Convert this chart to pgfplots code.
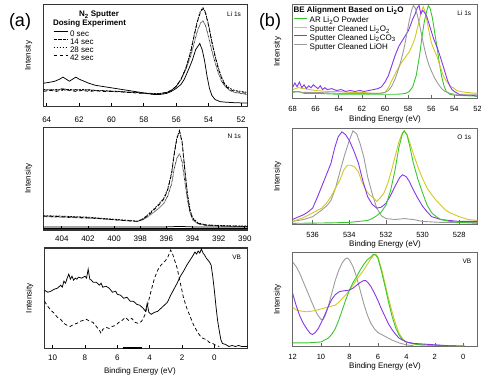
\documentclass[border=0pt]{standalone}
\usepackage{fontspec}
\setmainfont{Liberation Sans}
\usepackage{pgfplots}
\pgfplotsset{compat=1.18}
\definecolor{cgreen}{RGB}{55,200,45}
\definecolor{cyellow}{RGB}{210,200,35}
\definecolor{cpurple}{RGB}{135,55,235}
\definecolor{cgray}{RGB}{155,155,155}
\definecolor{frameg}{RGB}{105,105,105}
\tikzset{
  corner/.style={anchor=north east, font=\fontsize{6.5}{7}\selectfont},
  s0/.style={black, line width=0.75pt},
  s14/.style={black, line width=0.75pt, dash pattern=on 0.6pt off 0.7pt},
  s28/.style={black, line width=0.75pt, dash pattern=on 1.8pt off 1.2pt},
  s42/.style={black, line width=0.75pt, dash pattern=on 3.5pt off 2.5pt},
  rl/.style={line width=0.9pt},
}
\pgfplotsset{
  base/.style={scale only axis, x dir=reverse, ymin=0, ymax=1, ytick=\empty,
    xtick pos=left, tick align=inside, major tick length=4pt,
    /pgf/number format/assume math mode=true,
    xticklabel style={font=\fontsize{8}{9}\selectfont, yshift=-2.5pt},
    every axis y label/.style={at={([xshift=-15pt]axis description cs:0,0.5)}, rotate=90, anchor=center, font=\fontsize{8}{9}\selectfont},
    every axis x label/.style={at={([yshift=-20pt]axis description cs:0.5,0)}, anchor=center, font=\fontsize{8}{9}\selectfont},
    ylabel={Intensity}},
  leftax/.style={base, axis line style={line width=1.1pt, black!80}, every tick/.style={black, line width=0.8pt}},
  rightax/.style={base, axis line style={line width=1pt, frameg}, every tick/.style={frameg, line width=0.6pt},
    xticklabel style={font=\fontsize{7.5}{9}\selectfont, yshift=-1.5pt}},
}
\begin{document}
\begin{tikzpicture}[x=1pt,y=1pt]
\useasboundingbox (0,0) rectangle (481,378);
\node[font=\fontsize{18}{20}\selectfont] at (20,356) {(a)};
\node[font=\fontsize{18}{20}\selectfont] at (270,356) {(b)};
% ---------- a1 Li 1s
\begin{axis}[leftax, at={(43.5pt,271.3pt)}, anchor=south west, width=204pt, height=102pt,
  xmin=51.6, xmax=64.2, xtick={52,54,...,64},
  xticklabel style={yshift=-4.5pt},
  legend style={at={(rel axis cs:0.047,0.755)}, anchor=north west, draw=none, fill=none, inner sep=0pt, font=\fontsize{8}{9}\selectfont, row sep=0.7pt, cells={anchor=west}, nodes={inner sep=0.5pt, text height=5.8pt, text depth=0.5pt}, /tikz/every odd column/.append style={column sep=1.5pt}},
  legend image code/.code={\draw[#1] (0pt,2pt) -- (14pt,2pt);}]
\addplot[s0] coordinates {(64.2,0.23)(63.8,0.24)(63.5,0.25)(63.2,0.27)(63.0,0.29)(62.8,0.27)(62.6,0.25)(62.4,0.27)(62.2,0.29)(62.0,0.27)(61.7,0.25)(61.4,0.23)(61.0,0.21)(60.6,0.2)(60.2,0.19)(59.8,0.18)(59.4,0.17)(59.0,0.16)(58.6,0.15)(58.2,0.14)(57.8,0.13)(57.4,0.12)(57.0,0.12)(56.6,0.13)(56.3,0.15)(56.0,0.18)(55.7,0.22)(55.5,0.27)(55.2,0.38)(55.0,0.46)(54.8,0.56)(54.55,0.62)(54.4,0.56)(54.25,0.45)(54.1,0.3)(53.95,0.18)(53.8,0.11)(53.6,0.07)(53.3,0.05)(53.0,0.045)(52.5,0.04)(51.6,0.035)};
\addlegendentry{0 sec}
\addplot[s14] coordinates {(64.2,0.16)(63.8,0.17)(63.4,0.16)(63.0,0.18)(62.6,0.16)(62.2,0.17)(61.8,0.16)(61.4,0.17)(61.0,0.16)(60.5,0.16)(60,0.155)(59.5,0.15)(59,0.145)(58.5,0.14)(58,0.135)(57.5,0.13)(57,0.13)(56.6,0.14)(56.3,0.16)(56.0,0.2)(55.7,0.27)(55.4,0.37)(55.1,0.5)(54.9,0.62)(54.7,0.74)(54.5,0.82)(54.35,0.84)(54.2,0.8)(54.0,0.68)(53.8,0.55)(53.6,0.43)(53.4,0.33)(53.2,0.25)(53.0,0.2)(52.7,0.16)(52.4,0.14)(52,0.13)(51.6,0.12)};
\addlegendentry{14 sec}
\addplot[s28] coordinates {(64.2,0.17)(63.8,0.16)(63.4,0.17)(63.0,0.16)(62.6,0.17)(62.2,0.16)(61.8,0.17)(61.4,0.16)(61.0,0.16)(60.5,0.155)(60,0.15)(59.5,0.15)(59,0.14)(58.5,0.14)(58,0.13)(57.5,0.13)(57,0.13)(56.6,0.14)(56.3,0.16)(56.0,0.2)(55.7,0.27)(55.4,0.38)(55.1,0.55)(54.9,0.7)(54.7,0.84)(54.5,0.94)(54.35,0.97)(54.2,0.93)(54.0,0.8)(53.8,0.64)(53.6,0.5)(53.4,0.38)(53.2,0.29)(53.0,0.22)(52.7,0.18)(52.4,0.16)(52,0.15)(51.6,0.14)};
\addlegendentry{28 sec}
\addplot[s42] coordinates {(64.2,0.15)(63.8,0.16)(63.4,0.15)(63.0,0.17)(62.6,0.16)(62.2,0.15)(61.8,0.16)(61.4,0.15)(61.0,0.155)(60.5,0.15)(60,0.15)(59.5,0.145)(59,0.14)(58.5,0.135)(58,0.13)(57.5,0.125)(57,0.125)(56.6,0.14)(56.3,0.16)(56.0,0.2)(55.7,0.27)(55.4,0.38)(55.1,0.54)(54.9,0.69)(54.7,0.83)(54.5,0.93)(54.35,0.96)(54.2,0.92)(54.0,0.79)(53.8,0.63)(53.6,0.49)(53.4,0.37)(53.2,0.28)(53.0,0.21)(52.7,0.17)(52.4,0.15)(52,0.14)(51.6,0.13)};
\addlegendentry{42 sec}
\node[font=\bfseries\fontsize{8}{9}\selectfont, inner sep=0pt] at (rel axis cs:0.272,0.9) {N\textsubscript{2} Sputter};
\node[font=\bfseries\fontsize{8}{9}\selectfont, inner sep=0pt] at (rel axis cs:0.2255,0.818) {Dosing Experiment};
\node[corner] at (rel axis cs:0.985,0.97) {Li 1s};
\end{axis}
% ---------- a2 N 1s
\begin{axis}[leftax, at={(43.5pt,148pt)}, anchor=south west, width=204pt, height=102.7pt,
  xmin=389.8, xmax=405.4, xtick={390,392,...,404}]
\addplot[s0] coordinates {(405.4,0.03)(398,0.03)(396,0.03)(395,0.035)(394,0.03)(393,0.03)(389.8,0.03)};
\addplot[s0, line width=0.4pt] coordinates {(405.4,0.015)(389.8,0.015)};
\addplot[s14] coordinates {(405.4,0.13)(404,0.125)(403,0.12)(402,0.115)(401,0.11)(400,0.1)(399,0.09)(398.2,0.085)(397.8,0.1)(397.4,0.13)(397,0.17)(396.6,0.21)(396.2,0.26)(395.9,0.33)(395.6,0.45)(395.4,0.6)(395.2,0.7)(395.0,0.745)(394.8,0.66)(394.6,0.48)(394.4,0.3)(394.2,0.17)(394.0,0.1)(393.6,0.06)(393,0.045)(392,0.04)(391,0.035)(389.8,0.035)};
\addplot[s28] coordinates {(405.4,0.14)(404,0.135)(403,0.13)(402,0.125)(401,0.115)(400,0.105)(399,0.095)(398.2,0.085)(397.8,0.11)(397.4,0.15)(397,0.2)(396.6,0.25)(396.2,0.31)(395.9,0.4)(395.6,0.56)(395.4,0.75)(395.2,0.9)(395.0,0.97)(394.8,0.86)(394.6,0.6)(394.4,0.36)(394.2,0.2)(394.0,0.12)(393.6,0.07)(393,0.05)(392,0.045)(391,0.04)(389.8,0.04)};
\addplot[s42] coordinates {(405.4,0.135)(404,0.13)(403,0.125)(402,0.12)(401,0.11)(400,0.1)(399,0.09)(398.2,0.085)(397.8,0.105)(397.4,0.14)(397,0.19)(396.6,0.24)(396.2,0.3)(395.9,0.39)(395.6,0.55)(395.4,0.74)(395.2,0.89)(395.0,0.96)(394.8,0.85)(394.6,0.59)(394.4,0.35)(394.2,0.19)(394.0,0.11)(393.6,0.065)(393,0.05)(392,0.04)(391,0.04)(389.8,0.035)};
\node[corner] at (rel axis cs:0.985,0.97) {N 1s};
\end{axis}
% ---------- a3 VB
\begin{axis}[leftax, at={(44.5pt,29.5pt)}, anchor=south west, width=203pt, height=100.5pt,
  xmin=-2.05, xmax=10.5, xtick={0,2,...,10}, xlabel={Binding Energy (eV)},
  every axis x label/.style={at={([yshift=-23pt]axis description cs:0.47,0)}, anchor=center, font=\fontsize{8}{9}\selectfont}]
\addplot[s0] coordinates {(10.5,0.58)(10.3,0.56)(10.1,0.57)(9.9,0.59)(9.7,0.6)(9.5,0.63)(9.4,0.61)(9.3,0.67)(9.2,0.65)(9.1,0.7)(9.0,0.74)(8.9,0.69)(8.8,0.72)(8.7,0.68)(8.6,0.7)(8.5,0.69)(8.4,0.71)(8.2,0.7)(8.0,0.72)(7.9,0.7)(7.8,0.79)(7.7,0.69)(7.6,0.68)(7.5,0.66)(7.3,0.66)(7.1,0.63)(7.0,0.65)(6.9,0.61)(6.7,0.62)(6.5,0.6)(6.3,0.56)(6.1,0.57)(6.0,0.54)(5.8,0.53)(5.6,0.5)(5.4,0.51)(5.2,0.47)(5.0,0.47)(4.8,0.44)(4.6,0.43)(4.4,0.4)(4.25,0.37)(4.15,0.45)(4.05,0.36)(3.9,0.34)(3.7,0.36)(3.5,0.37)(3.3,0.4)(3.1,0.43)(2.9,0.46)(2.7,0.53)(2.5,0.59)(2.3,0.65)(2.1,0.72)(1.9,0.77)(1.7,0.83)(1.5,0.88)(1.3,0.93)(1.2,0.96)(1.1,0.94)(1.0,0.97)(0.9,0.95)(0.8,0.99)(0.7,0.95)(0.6,0.93)(0.5,0.9)(0.4,0.88)(0.3,0.86)(0.2,0.83)(0.1,0.72)(0.0,0.58)(-0.1,0.42)(-0.2,0.28)(-0.3,0.18)(-0.4,0.09)(-0.5,0.05)(-0.7,0.04)(-0.9,0.02)(-1.1,0.03)(-1.3,0.02)(-1.5,0.03)(-1.7,0.02)(-2.05,0.02)};
\addplot[s42] coordinates {(10.5,0.47)(10.3,0.42)(10.1,0.38)(9.9,0.35)(9.7,0.31)(9.5,0.29)(9.3,0.25)(9.1,0.23)(8.9,0.22)(8.7,0.24)(8.5,0.25)(8.3,0.27)(8.1,0.28)(7.9,0.29)(7.7,0.27)(7.5,0.26)(7.3,0.22)(7.1,0.18)(7.0,0.15)(6.9,0.19)(6.7,0.21)(6.5,0.2)(6.3,0.22)(6.1,0.23)(5.9,0.26)(5.7,0.28)(5.5,0.31)(5.3,0.28)(5.1,0.3)(4.9,0.26)(4.7,0.25)(4.5,0.27)(4.3,0.33)(4.1,0.45)(3.9,0.58)(3.7,0.7)(3.5,0.78)(3.3,0.83)(3.1,0.86)(2.9,0.9)(2.7,0.98)(2.6,0.95)(2.5,0.9)(2.3,0.8)(2.1,0.65)(1.9,0.5)(1.7,0.4)(1.5,0.32)(1.3,0.24)(1.1,0.18)(0.9,0.13)(0.7,0.1)(0.5,0.09)(0.3,0.06)(0.1,0.05)(-0.1,0.03)(-0.3,0.02)};
\addplot[black, line width=1.6pt] coordinates {(5.65,0.008)(4.45,0.008)};
\node[corner] at (rel axis cs:0.985,0.97) {VB};
\end{axis}
% ---------- b1 Li 1s
\begin{axis}[rightax, at={(292.5pt,279pt)}, anchor=south west, width=185pt, height=94.3pt,
  xmin=52, xmax=68, xtick={52,54,...,68}, xlabel={Binding Energy (eV)},
  legend style={at={(rel axis cs:0.006,0.876)}, anchor=north west, draw=none, fill=none, inner sep=0pt, font=\fontsize{8}{9}\selectfont, row sep=1.5pt, cells={anchor=west}, nodes={inner sep=0.5pt, text height=5.8pt, text depth=0.5pt}, /tikz/every odd column/.append style={column sep=1.5pt}},
  legend image code/.code={\draw[#1] (0pt,2pt) -- (13pt,2pt);}]
\addplot[rl, cgreen] coordinates {(68,0.07)(67.5,0.08)(67,0.06)(66,0.06)(65,0.055)(64,0.05)(62,0.05)(60,0.05)(59,0.05)(58.5,0.055)(58.2,0.06)(57.9,0.08)(57.6,0.13)(57.3,0.25)(57.0,0.47)(56.8,0.66)(56.6,0.82)(56.4,0.93)(56.25,0.99)(56.1,0.96)(55.9,0.86)(55.7,0.7)(55.5,0.55)(55.3,0.38)(55.1,0.24)(54.9,0.14)(54.7,0.08)(54.4,0.05)(54.0,0.04)(53,0.035)(52,0.03)};
\addlegendentry{AR Li\textsubscript{2}O Powder}
\addplot[rl, cyellow] coordinates {(68,0.1)(67.5,0.12)(67,0.11)(66.5,0.1)(66,0.09)(65,0.08)(64,0.08)(63,0.07)(62,0.07)(61,0.06)(60.3,0.06)(60,0.07)(59.7,0.12)(59.4,0.2)(59.1,0.27)(58.8,0.34)(58.5,0.4)(58.2,0.45)(57.9,0.5)(57.6,0.58)(57.4,0.65)(57.2,0.75)(57.0,0.85)(56.85,0.93)(56.7,0.98)(56.55,0.93)(56.4,0.85)(56.2,0.72)(56.0,0.6)(55.75,0.52)(55.5,0.45)(55.25,0.35)(55.0,0.26)(54.75,0.2)(54.5,0.16)(54.3,0.13)(54.1,0.12)(53.8,0.09)(53.5,0.08)(53,0.07)(52,0.06)};
\addlegendentry{Sputter Cleaned Li\textsubscript{2}O\textsubscript{2}}
\addplot[rl, cpurple] coordinates {(68,0.12)(67.8,0.17)(67.6,0.13)(67.4,0.18)(67.2,0.12)(67.0,0.15)(66.8,0.11)(66.6,0.14)(66.4,0.12)(66.2,0.15)(66.0,0.13)(65.8,0.11)(65.6,0.14)(65.4,0.1)(65.2,0.12)(65.0,0.1)(64.6,0.11)(64.2,0.09)(63.8,0.1)(63.4,0.08)(63.0,0.09)(62.6,0.08)(62.2,0.09)(61.8,0.08)(61.4,0.09)(61.0,0.1)(60.6,0.11)(60.3,0.13)(60.0,0.18)(59.7,0.25)(59.4,0.36)(59.1,0.47)(58.8,0.56)(58.5,0.62)(58.3,0.66)(58.0,0.72)(57.8,0.78)(57.6,0.85)(57.4,0.9)(57.2,0.97)(57.05,0.99)(56.9,0.9)(56.75,0.94)(56.6,0.92)(56.4,0.88)(56.2,0.8)(56.0,0.72)(55.8,0.64)(55.5,0.55)(55.2,0.44)(55.0,0.36)(54.8,0.28)(54.6,0.2)(54.4,0.14)(54.2,0.1)(54.0,0.08)(53.6,0.05)(53.0,0.04)(52.5,0.04)(52,0.03)};
\addlegendentry{Sputter Cleaned Li\textsubscript{2}CO\textsubscript{3}}
\addplot[rl, cgray] coordinates {(68,0.08)(67,0.07)(66,0.07)(65,0.065)(64,0.06)(62,0.06)(60.5,0.06)(60,0.07)(59.7,0.09)(59.4,0.14)(59.1,0.22)(58.8,0.33)(58.5,0.46)(58.3,0.57)(58.1,0.7)(57.9,0.83)(57.7,0.94)(57.55,0.99)(57.4,0.97)(57.2,0.89)(57.0,0.78)(56.8,0.66)(56.6,0.54)(56.4,0.44)(56.2,0.36)(56.0,0.3)(55.7,0.22)(55.4,0.16)(55.1,0.11)(54.8,0.08)(54.4,0.06)(54,0.05)(53,0.05)(52,0.05)};
\addlegendentry{Sputter Cleaned LiOH}
\node[anchor=west, font=\bfseries\fontsize{8}{9}\selectfont, inner sep=0pt] at (rel axis cs:0.005,0.935) {BE Alignment Based on Li\textsubscript{2}O};
\node[corner] at (rel axis cs:0.985,0.97) {Li 1s};
\end{axis}
% ---------- b2 O 1s
\begin{axis}[rightax, at={(292.5pt,153.7pt)}, anchor=south west, width=185pt, height=95.3pt,
  xmin=527, xmax=537.1, xtick={528,530,...,536}, xlabel={Binding Energy (eV)}]
\addplot[rl, cgray] coordinates {(537.1,0.03)(536.5,0.05)(536,0.08)(535.5,0.15)(535.2,0.2)(535,0.25)(534.75,0.38)(534.5,0.56)(534.25,0.73)(534,0.88)(533.8,0.98)(533.6,0.95)(533.4,0.84)(533.2,0.7)(533,0.5)(532.75,0.32)(532.5,0.17)(532.25,0.09)(532,0.06)(531.5,0.05)(531,0.06)(530.5,0.05)(530,0.03)(529,0.02)(527,0.02)};
\addplot[rl, cyellow] coordinates {(537.1,0.03)(536.5,0.07)(536,0.12)(535.5,0.17)(535.25,0.22)(535,0.29)(534.75,0.38)(534.5,0.47)(534.3,0.57)(534.1,0.62)(533.9,0.62)(533.7,0.6)(533.5,0.55)(533.3,0.44)(533.1,0.36)(532.9,0.31)(532.7,0.28)(532.5,0.24)(532.3,0.28)(532.1,0.33)(531.9,0.43)(531.7,0.56)(531.5,0.71)(531.3,0.86)(531.1,0.96)(531,0.98)(530.85,0.94)(530.7,0.86)(530.5,0.74)(530.25,0.6)(530,0.48)(529.75,0.38)(529.5,0.31)(529.25,0.25)(529,0.2)(528.75,0.15)(528.5,0.12)(528.25,0.1)(528,0.08)(527.5,0.05)(527,0.04)};
\addplot[rl, cpurple] coordinates {(537.1,0.05)(536.75,0.08)(536.5,0.1)(536.25,0.13)(536,0.17)(535.75,0.28)(535.5,0.4)(535.25,0.52)(535,0.64)(534.8,0.8)(534.6,0.92)(534.4,0.97)(534.2,0.94)(534,0.88)(533.75,0.77)(533.5,0.64)(533.25,0.45)(533,0.29)(532.75,0.21)(532.5,0.17)(532.25,0.18)(532,0.22)(531.75,0.3)(531.5,0.4)(531.25,0.49)(531.1,0.52)(530.9,0.5)(530.75,0.46)(530.5,0.36)(530.25,0.27)(530,0.19)(529.75,0.13)(529.5,0.08)(529,0.05)(528.5,0.04)(528,0.03)(527,0.03)};
\addplot[rl, cgreen] coordinates {(537.1,0.01)(535,0.015)(534,0.02)(533.5,0.03)(533,0.04)(532.75,0.06)(532.5,0.09)(532.25,0.13)(532,0.2)(531.75,0.35)(531.5,0.57)(531.3,0.8)(531.1,0.95)(531,0.98)(530.85,0.94)(530.7,0.82)(530.5,0.64)(530.25,0.47)(530,0.33)(529.75,0.2)(529.5,0.12)(529.25,0.08)(529,0.05)(528.5,0.03)(528,0.02)(527,0.01)};
\node[corner] at (rel axis cs:0.985,0.97) {O 1s};
\end{axis}
% ---------- b3 VB
\begin{axis}[rightax, at={(292.5pt,31.3pt)}, anchor=south west, width=185pt, height=94.4pt,
  xmin=-1, xmax=12, xtick={0,2,...,12}, xlabel={Binding Energy (eV)}]
\addplot[rl, cgray] coordinates {(12,0.9)(11.75,0.85)(11.5,0.78)(11.25,0.69)(11,0.6)(10.75,0.51)(10.5,0.42)(10.25,0.34)(10.0,0.29)(9.85,0.29)(9.7,0.33)(9.5,0.42)(9.25,0.56)(9.0,0.7)(8.75,0.81)(8.5,0.89)(8.3,0.93)(8.15,0.94)(8.0,0.92)(7.75,0.85)(7.5,0.74)(7.25,0.6)(7.0,0.46)(6.75,0.34)(6.5,0.25)(6.25,0.19)(6.0,0.15)(5.5,0.11)(5.0,0.07)(4.5,0.04)(4.0,0.02)(3.5,0.01)};
\addplot[rl, cyellow] coordinates {(12,0.42)(11.75,0.39)(11.5,0.38)(11.0,0.37)(10.5,0.38)(10.0,0.4)(9.5,0.42)(9.0,0.44)(8.75,0.47)(8.5,0.51)(8.25,0.55)(8.0,0.6)(7.75,0.65)(7.5,0.71)(7.25,0.76)(7.0,0.81)(6.75,0.87)(6.5,0.93)(6.3,0.97)(6.15,0.98)(6.0,0.95)(5.75,0.83)(5.5,0.67)(5.25,0.51)(5.0,0.37)(4.75,0.24)(4.5,0.14)(4.25,0.08)(4.0,0.05)(3.5,0.03)(3.0,0.02)(2.0,0.015)(1.0,0.01)(0,0.01)};
\addplot[rl, cgreen] coordinates {(12,0.04)(11,0.04)(10.5,0.045)(10,0.05)(9.75,0.07)(9.5,0.09)(9.25,0.13)(9.0,0.19)(8.75,0.28)(8.5,0.39)(8.25,0.5)(8.0,0.6)(7.75,0.68)(7.5,0.74)(7.25,0.81)(7.0,0.87)(6.75,0.92)(6.5,0.95)(6.3,0.98)(6.15,0.97)(6.0,0.94)(5.75,0.8)(5.5,0.64)(5.25,0.47)(5.0,0.32)(4.75,0.2)(4.5,0.12)(4.25,0.07)(4.0,0.05)(3.5,0.03)(3.0,0.02)(2.0,0.015)(1.0,0.01)(0,0.01)(-0.1,0.01)};
\addplot[rl, cpurple] coordinates {(12,0.57)(11.75,0.44)(11.5,0.33)(11.25,0.25)(11.0,0.19)(10.75,0.14)(10.6,0.13)(10.4,0.15)(10.2,0.19)(10.0,0.25)(9.75,0.33)(9.5,0.42)(9.25,0.5)(9.0,0.55)(8.75,0.58)(8.5,0.59)(8.25,0.595)(8.0,0.6)(7.75,0.62)(7.5,0.65)(7.25,0.68)(7.0,0.7)(6.85,0.7)(6.7,0.68)(6.5,0.64)(6.25,0.57)(6.0,0.49)(5.75,0.4)(5.5,0.32)(5.25,0.24)(5.0,0.18)(4.75,0.13)(4.5,0.09)(4.25,0.07)(4.0,0.05)(3.5,0.035)(3.0,0.03)(2.0,0.02)(1.0,0.01)(0.5,0.01)};
\node[corner] at (rel axis cs:0.985,0.97) {VB};
\end{axis}
\end{tikzpicture}
\end{document}
